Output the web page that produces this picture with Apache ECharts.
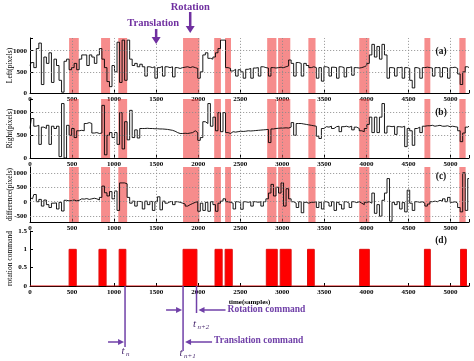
<!DOCTYPE html>
<html><head><meta charset="utf-8">
<script src="https://cdn.jsdelivr.net/npm/echarts@6/dist/echarts.min.js"></script>
<style>html,body{margin:0;padding:0;background:#fff}#c{width:474px;height:361px}</style>
</head><body><div id="c"></div>
<script>
// ---------- data ----------
const sampleStep = 30;           // samples between stored points
const xMax = 5220;
const xTicks = [0,500,1000,1500,2000,2500,3000,3500,4000,4500,5000];

const leftPx = [
 650,720,600,1050,1180,200,850,700,950,250,
 800,650,300,20,750,800,550,600,700,550,
 800,900,900,650,900,850,700,900,1050,800,
 600,270,150,650,500,1200,250,1250,300,1250,
 800,650,700,620,680,620,400,620,600,620,
 350,600,630,400,620,600,620,380,600,580,
 600,610,620,600,620,600,580,350,500,900,
 950,820,800,850,950,1050,1250,1250,600,580,
 520,560,400,550,500,350,560,580,350,590,
 600,400,620,600,590,400,600,590,600,610,
 600,620,640,780,700,400,720,700,400,700,
 650,600,620,600,350,600,280,620,600,400,
 610,600,350,620,600,380,600,620,420,600,
 590,600,620,650,700,900,1150,850,1100,800,
 1150,900,350,600,590,400,600,610,350,600,
 580,300,120,600,580,350,600,610,600,590,
 400,600,600,380,600,590,350,600,610,580,
 450,200,500,620,600
];
const rightPx = [
 650,870,700,720,300,680,650,720,300,700,
 650,700,30,1200,0,720,500,650,450,600,
 610,600,760,780,760,550,560,540,550,1160,
 70,500,560,450,560,300,1000,200,800,400,
 1050,450,620,440,650,650,655,650,650,645,
 645,640,640,635,630,620,610,590,560,540,
 540,545,540,550,560,600,560,390,450,800,
 760,1200,700,900,600,1000,580,1000,560,540,
 580,570,580,590,585,590,600,595,600,605,
 610,615,620,625,630,340,640,650,655,660,
 660,665,660,680,780,500,760,760,750,740,
 730,720,710,700,480,430,650,690,680,700,
 650,690,700,580,690,700,680,700,620,680,
 650,600,580,650,740,900,560,900,560,900,
 1200,550,700,690,700,520,690,680,700,250,
 650,600,280,650,680,560,700,710,710,720,
 700,710,720,700,700,710,690,700,690,680,
 600,360,550,680,700
];
const diffPx = [
 140,100,250,0,80,-150,60,-100,-200,-50,
 -40,-250,-20,-320,50,30,40,60,30,50,
 100,90,110,80,100,120,100,60,150,540,
 310,200,350,100,370,-300,650,650,620,150,
 -50,20,-150,10,0,-250,20,-100,10,-300,
 0,170,-280,20,-50,0,10,-100,0,-20,
 -50,-80,-150,-100,-60,-20,0,-330,-50,-300,
 -20,-330,0,-100,-330,-50,20,100,0,-20,
 -50,-250,0,-30,-260,0,-20,0,-150,0,
 -20,0,-150,0,100,300,600,200,500,300,
 650,-150,450,100,0,-50,-200,0,-380,-20,
 -50,-20,-20,0,-200,-20,-250,0,-30,-150,
 0,-300,-20,-100,-250,0,-50,-200,0,-30,
 0,-50,-100,-20,0,-50,300,-400,-100,-500,
 50,300,800,-670,-20,-100,0,-250,-30,-350,
 400,-50,-300,0,-20,0,-50,-150,-80,0,
 20,0,50,20,100,0,150,-20,0,-50,
 -200,-350,1000,-300,800
];
// shaded command windows (panels a-c)
const bands = [[465,580],[845,952],[1050,1155],[1820,2015],[2190,2270],[2320,2390],
  [2820,2930],[2950,3095],[3310,3395],[3915,4035],[4690,4760],[5105,5180]];
// rotation command = 1 intervals (panel d)
const rotationOn = [[465,550],[820,905],[1060,1140],[1820,1985],[2200,2285],[2320,2405],
  [2810,2940],[2975,3105],[3300,3380],[3920,4035],[4690,4760],[5120,5190]];
const panelLabels = ['(a)','(b)','(c)','(d)'];
const yNames = ['Left(pixels)','Right(pixels)','difference(pixels)','rotation command'];
const yGridA = [500,1000], yGridB = [500,1000], yGridC = [-500,0,500,1000];
// annotation positions (sample index)
const translationAt = 1500, rotationAt = 1905;
const tN = 1130, tN1 = 1820, tN2 = 1980;

// ---------- chart ----------
const FONT = 'Liberation Serif';
const PURPLE = '#7030a0';
const chart = echarts.init(document.getElementById('c'), null, {renderer:'canvas'});
const gbase = {left:30, right:5, containLabel:false, outerBoundsMode:'none'};
const grids = [
  Object.assign({top:38, height:55}, gbase),
  Object.assign({top:99, height:59}, gbase),
  Object.assign({top:167, height:55}, gbase),
  Object.assign({top:231, height:55}, gbase)
];
const lbl = {fontSize:7, fontFamily:FONT, fontWeight:'bold', color:'#000'};
function xAx(gi){
  return {type:'value', gridIndex:gi, min:0, max:xMax, interval:500,
    axisLine:{show:true, onZero:false, lineStyle:{color:'#000', width:1}},
    axisTick:{show:true, inside:true, length:3, lineStyle:{color:'#000'}},
    axisLabel:Object.assign({margin:3, formatter:v=> v%500===0 ? String(v) : ''}, lbl),
    splitLine:{show:false},
    name: gi===3 ? 'time(samples)' : '', nameLocation:'middle', nameGap:13,
    nameTextStyle:{fontSize:7, fontFamily:FONT, fontWeight:'bold', color:'#000'}};
}
function yAx(gi, min, max, interval, ticks, fmt){
  return {type:'value', gridIndex:gi, min, max, interval,
    axisLine:{show:true, onZero:false, lineStyle:{color:'#000', width:1}},
    axisTick:{show:ticks, inside:true, length:3, lineStyle:{color:'#000'}},
    axisLabel:Object.assign({margin:3, formatter:fmt}, lbl),
    splitLine:{show:false}};
}
const f500 = v => v%500===0 ? String(v) : '';
const toXY = arr => arr.map((v,i)=>[i*sampleStep, v]);
function gridSeries(gi, yVals){
  const data = xTicks.slice(1).map(v=>({xAxis:v})).concat(yVals.map(v=>({yAxis:v})));
  return {type:'line', xAxisIndex:gi, yAxisIndex:gi, data:[], z:1, silent:true,
    markLine:{symbol:['none','none'], silent:true, animation:false, label:{show:false},
      lineStyle:{color:'#8a8a8a', type:[1.2,1.8], width:0.8}, data}};
}
function bandSeries(gi){
  return {type:'line', xAxisIndex:gi, yAxisIndex:gi, data:[], z:5, silent:true,
    markArea:{silent:true, animation:false, itemStyle:{color:'rgba(240,64,64,0.6)'},
      data:bands.map(b=>[{xAxis:b[0]},{xAxis:b[1]}])}};
}
function sigSeries(gi, arr){
  return {type:'line', xAxisIndex:gi, yAxisIndex:gi, data:toXY(arr), showSymbol:false,
    step:'middle', z:3, lineStyle:{color:'#000', width:0.9}, animation:false};
}
const stepPts = [[0,0]];
rotationOn.forEach(([s,e])=>{ stepPts.push([s,0],[s,1],[e,1],[e,0]); });
stepPts.push([xMax,0]);

chart.setOption({
  animation:false,
  backgroundColor:'#fff',
  grid:grids,
  xAxis:[xAx(0),xAx(1),xAx(2),xAx(3)],
  yAxis:[
    yAx(0,0,1300,500,true,f500),
    yAx(1,0,1300,500,true,f500),
    yAx(2,-700,1200,100,false,f500),
    yAx(3,0,1.5,0.5,true,v=>String(v))
  ],
  series:[
    gridSeries(0,yGridA), gridSeries(1,yGridB), gridSeries(2,yGridC),
    sigSeries(0,leftPx), sigSeries(1,rightPx), sigSeries(2,diffPx),
    bandSeries(0), bandSeries(1), bandSeries(2),
    {type:'line', xAxisIndex:3, yAxisIndex:3, data:stepPts, showSymbol:false, z:3,
      lineStyle:{color:'#e01010', width:1}, areaStyle:{color:'#ff0000', opacity:1}}
  ]
});

// ---------- annotations ----------
const px = v => chart.convertToPixel({xAxisIndex:3}, v);
const y0 = chart.convertToPixel({yAxisIndex:3}, 0);
const g = [];
function vArrowDown(x, y1, y2, w, lw, col){
  g.push({type:'line', shape:{x1:x, y1:y1, x2:x, y2:y2-6}, style:{stroke:col, lineWidth:lw}, z:100});
  g.push({type:'polygon', shape:{points:[[x-w/2,y2-7],[x+w/2,y2-7],[x,y2]]}, style:{fill:col}, z:100});
}
function hArrow(xFrom, xTo, y, col){
  const dir = xTo > xFrom ? 1 : -1;
  g.push({type:'line', shape:{x1:xFrom, y1:y, x2:xTo-dir*5, y2:y}, style:{stroke:col, lineWidth:1.5}, z:100});
  g.push({type:'polygon', shape:{points:[[xTo-dir*6,y-3],[xTo-dir*6,y+3],[xTo,y]]}, style:{fill:col}, z:100});
}
function txt(x, y, s, size, col, align, opts){
  g.push({type:'text', x, y, z:100, style:Object.assign({text:s, fontSize:size, fontFamily:FONT,
    fontWeight:'bold', fill:col, align:align||'center', verticalAlign:'middle'}, opts||{})});
}
function tLabel(x, y, sub){
  txt(x-2, y, 't', 11, '#4a2a70', 'center', {fontStyle:'italic', fontWeight:'normal'});
  txt(x+1, y+3, sub, 7, '#4a2a70', 'left', {fontStyle:'italic', fontWeight:'normal'});
}
// y axis names (rotated)
grids.forEach((gr,i)=>{
  g.push({type:'text', x:10, y:gr.top + gr.height/2, rotation:Math.PI/2, z:100,
    style:{text:yNames[i], fontSize:7.5, fontFamily:FONT, fill:'#000', align:'center', verticalAlign:'middle'}});
});
// top arrows
const xr = px(rotationAt), xt = px(translationAt);
txt(xr, 7, 'Rotation', 10.5, PURPLE);
vArrowDown(xr, 12, 33, 9, 2.5, PURPLE);
txt(xt-3, 23, 'Translation', 10.5, PURPLE);
vArrowDown(xt, 29, 44, 9, 2.5, PURPLE);
// panel tags
const tagY = [52, 113, 177, 241];
panelLabels.forEach((s,i)=>txt(441, tagY[i], s, 9.5, '#111'));
// time markers below panel d
const BP = '#7040a8';
const xn = px(tN), xn1 = px(tN1), xn2 = px(tN2);
g.push({type:'line', shape:{x1:xn, y1:y0, x2:xn, y2:347}, style:{stroke:BP, lineWidth:1.5}, z:100});
g.push({type:'line', shape:{x1:xn1, y1:y0, x2:xn1, y2:351}, style:{stroke:BP, lineWidth:1.5}, z:100});
g.push({type:'line', shape:{x1:xn2, y1:y0, x2:xn2, y2:313}, style:{stroke:BP, lineWidth:1.5}, z:100});
hArrow(xn1-17, xn1-1, 310, BP);
hArrow(xn2+29, xn2+2, 310, BP);
txt(xn2+31, 310, 'Rotation command', 9.5, BP, 'left');
hArrow(xn-17, xn-1, 342, BP);
hArrow(xn1+29, xn1+2, 342, BP);
txt(xn1+31, 341, 'Translation command', 9.5, BP, 'left');
tLabel(xn, 351, 'n');
tLabel(xn1, 353, 'n+1');
tLabel(xn2, 324, 'n+2');
chart.setOption({graphic:g});
</script>
</body></html>
